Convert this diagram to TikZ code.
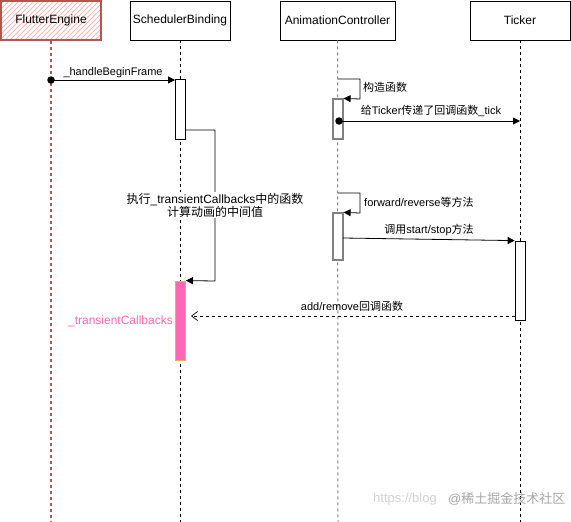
\documentclass[tikz,border=0pt]{standalone}
\usepackage{fontspec}
\setmainfont{Liberation Sans}
\newfontfamily\cjk{Noto Sans CJK SC}
\usetikzlibrary{arrows.meta}
\definecolor{fered}{HTML}{B85450}
\definecolor{hatchred}{HTML}{F4B8B6}
\definecolor{pinkbar}{HTML}{FF66B3}
\definecolor{goldbd}{HTML}{D6B656}
\definecolor{acgray}{HTML}{808080}
\begin{document}
\begin{tikzpicture}[x=1pt,y=-1pt,
  hdr/.style={draw, line width=0.8pt, fill=white, minimum height=39pt, inner sep=0pt, font=\fontsize{12}{14}\selectfont},
  life/.style={line width=0.7pt, dash pattern=on 3pt off 3pt},
  bar/.style={draw, line width=0.8pt, fill=white, minimum width=10pt, inner sep=0pt},
  msg/.style={line width=0.8pt, -{Triangle[length=7pt,width=7pt]}},
  ret/.style={line width=0.8pt, dash pattern=on 3pt off 3pt, -{Straight Barb[length=6pt,width=9pt,line width=0.7pt]}},
  lbl/.style={font=\fontsize{11}{13}\selectfont, inner sep=1pt},
  dot/.style={circle, fill=black, minimum size=7.5pt, inner sep=0pt}
]
\useasboundingbox (0,0) rectangle (571,522);

% header boxes
\begin{scope}
\clip (1,1) rectangle (101,40);
\foreach \i in {-45,-40,...,105} \draw[hatchred, line width=0.9pt] (\i,40) -- (\i+40,0);
\end{scope}
\node[hdr, draw=fered, line width=1.4pt, fill=none, minimum width=100pt] (fe) at (51,20.5) {FlutterEngine};
\node[hdr, minimum width=100pt] (sb) at (180,20.5) {SchedulerBinding};
\node[hdr, minimum width=115pt] (ac) at (337.5,20.5) {AnimationController};
\node[hdr, minimum width=100pt] (tk) at (520,20.5) {Ticker};

% lifeline ends
\coordinate (feend) at (51,522);
\coordinate (sbend) at (180,522);
\coordinate (acend) at (338,522);
\coordinate (tkend) at (520,522);

\draw[life, draw=fered, line width=1.4pt] (fe.south) -- (feend);
\draw[life] (sb.south) -- (sbend);
\draw[life, draw=acgray, line width=1pt] (ac.south) -- (acend);
\draw[life] (tk.south) -- (tkend);

% activation bars
\node[bar, minimum height=60pt] (sbbar) at (180.5,109) {};
\node[bar, fill=pinkbar, draw=goldbd, minimum height=79pt] (pink) at (180.5,320.5) {};
\node[bar, draw=acgray, line width=1.2pt, minimum height=40pt] (acbar1) at (338,119) {};
\node[bar, draw=acgray, line width=1.2pt, minimum height=47pt] (acbar2) at (338,236.5) {};
\node[bar, minimum height=79pt] (tkbar) at (520,280.5) {};

% _handleBeginFrame
\node[dot] (d1) at (51,80) {};
\draw[msg] (d1.center) -- (sbbar.west |- d1) node[lbl, midway, above=1pt] {\_handleBeginFrame};

% self-call on SchedulerBinding
\coordinate (sbturn1) at (215,130);
\coordinate (sbturn2) at (215,281);
\draw[msg] (sbbar.east |- sbturn1) -- (sbturn1) -- (sbturn2) -- (pink.north east);
\node[fill=white, align=center, inner sep=1pt, font=\fontsize{12}{14}\selectfont] (sblbl) at (215,205)
  {{\cjk 执行}\_transientCallbacks{\cjk 中的函数}\\[-1pt]{\cjk 计算动画的中间值}};

% _transientCallbacks label
\node[anchor=east, text=pinkbar, font=\fontsize{12}{14}\selectfont, inner sep=1pt] (tclbl) at (174,321) {\_transientCallbacks};

% AnimationController constructor self call
\coordinate (ac1a) at (338,79);
\coordinate (ac1b) at (360,79);
\coordinate (ac1c) at (360,99);
\draw[msg] (ac1a) -- (ac1b) -- (ac1c) -- (acbar1.north east);
\node[lbl, anchor=west] (l2) at (362,87) {\cjk 构造函数};

% pass callback to Ticker
\node[dot] (d2) at (339,121) {};
\coordinate (tk121) at (520,121);
\draw[msg] (d2.center) -- (tk121);
\node[lbl] (l3) at (431,111) {{\cjk 给}Ticker{\cjk 传递了回调函数}\_tick};

% forward/reverse self call
\coordinate (ac2a) at (338,193);
\coordinate (ac2b) at (360,193);
\coordinate (ac2c) at (360,213);
\draw[msg] (ac2a) -- (ac2b) -- (ac2c) -- (acbar2.north east);
\node[lbl, anchor=west] (l4) at (363,202) {forward/reverse{\cjk 等方法}};

% start/stop
\coordinate (ac238) at (343,238);
\draw[msg] (ac238) -- (tkbar.north west);
\node[lbl] (l5) at (429,230) {{\cjk 调用}start/stop{\cjk 方法}};

% add/remove return
\coordinate (tk316) at (515,316);
\coordinate (pk316) at (191,316);
\draw[ret] (tk316) -- (pk316);
\node[lbl] (l6) at (352,306) {add/remove{\cjk 回调函数}};

% watermark
\node[anchor=west, text=black!18, font=\fontsize{13}{15}\selectfont, inner sep=0pt] (wm1) at (373,499) {https://blog};
\node[anchor=west, text=black!35, font=\fontsize{13}{15}\selectfont, inner sep=0pt] (wm2) at (448,499) {@{\cjk 稀土掘金技术社区}};
\end{tikzpicture}
\end{document}
